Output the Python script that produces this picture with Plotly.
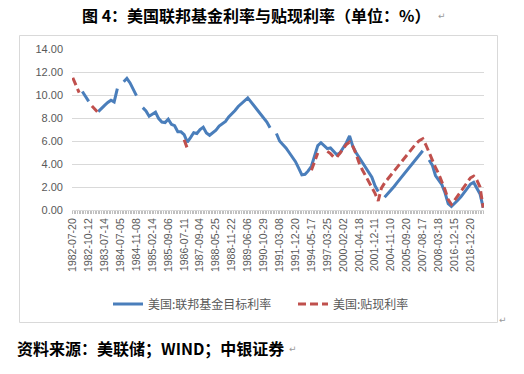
import plotly.graph_objects as go

# ---------------- data ----------------
tick_labels = ["1982-07-20", "1982-10-12", "1983-07-14", "1984-07-05", "1984-11-08",
               "1985-02-14", "1985-09-06", "1986-07-11", "1987-09-04", "1988-05-25",
               "1988-11-22", "1989-06-06", "1990-10-29", "1991-03-08", "1991-12-20",
               "1994-05-17", "1997-03-25", "2000-02-02", "2001-04-18", "2001-12-11",
               "2004-11-10", "2005-09-20", "2007-08-17", "2008-03-18", "2016-12-15",
               "2018-12-20"]
label_every = 5  # one label every 5 plotted categories

fed_funds_target = (
    [None, None, None,
     10.3, 9.9, 9.45,
     None, None,
     8.55, 8.85, 9.1, 9.35, 9.55, 9.4, 10.55,
     None,
     11.15, 11.45, 11.05, 10.5, 9.95,
     None,
     8.9, 8.62, 8.15, 8.3, 8.5, 7.95, 7.65, 7.6, 7.9, 7.45,
     7.33, 6.8, 6.8, 6.55, 5.9, 6.3, 6.72, 6.65, 7.0, 7.2,
     6.7, 6.5, 6.7, 6.95, 7.3, 7.5, 7.7, 8.1, 8.35, 8.65,
     9.0, 9.25, 9.55, 9.75, 9.4, 9.05, 8.7, 8.4, 8.0, 7.65,
     7.15,
     None,
     6.65, 6.0, 5.7, 5.4, 5.0, 4.6, 4.2, 3.65, 3.05, 3.1,
     3.4, 3.8, 4.7, 5.6, 5.85, 5.6, 5.33, 5.4, 5.05, 4.8,
     4.98, 5.4, 5.85, 6.45, 5.55, 5.0, 4.55, 4.15, 3.75, 3.3,
     2.85, 2.1, 1.6,
     None,
     1.1, 1.4, 1.7, 2.05, 2.4, 2.75, 3.15, 3.5, 3.85, 4.2,
     4.55, 4.85, 5.15,
     None,
     4.35, 3.9, 3.0, 2.6, 2.2, 1.5, 0.55, 0.3, 0.55, 0.85,
     1.15, 1.5, 1.85, 2.25, 2.4, 1.95, 1.4, 0.2]
)

discount_rate = (
    [11.5, 10.85, 10.2,
     None, None, None,
     9.05, 8.7, 8.45]
    + [None] * 26
    + [6.1, 5.35]
    + [None] * 38
    + [3.45, 4.3, 4.95,
       None, None,
       5.1, 4.9, 4.6, 4.6, 4.95, 5.3, 5.7, 5.9, 5.55, 4.9,
       4.1, 3.5, 3.0, 2.45, 1.95, 1.45, 0.8, 1.9, 2.35, 2.7,
       3.05, 3.4, 3.75, 4.15, 4.45, 4.8, 5.15, 5.5, 5.8, 6.05,
       6.2, 5.65, 4.95, 4.25, 3.7, 3.15, 2.5, 1.75, 0.9, 0.5,
       0.85, 1.25, 1.65, 2.05, 2.45, 2.8, 2.95, 2.6, 2.0, 0.2]
)

assert len(fed_funds_target) == len(discount_rate), (len(fed_funds_target), len(discount_rate))
n = len(fed_funds_target)
cat_index = list(range(n))
tick_pos = [k * label_every for k in range(len(tick_labels))]

# ---------------- figure ----------------
W, H = 524, 374
L, R, T, B = 72, 40, 49, 164
pw, ph = W - L - R, H - T - B


def px_x(p):
    return (p - L) / pw


def px_y(p):
    return (H - B - p) / ph


fig = go.Figure()
fig.add_trace(go.Scatter(
    x=cat_index, y=fed_funds_target, mode="lines", name="美国:联邦基金目标利率",
    line=dict(color="#4A7EBB", width=3), connectgaps=False))
fig.add_trace(go.Scatter(
    x=cat_index, y=discount_rate, mode="lines", name="美国:贴现利率",
    line=dict(color="#C0504D", width=3, dash="8px,4px"), connectgaps=False))

axis_font = dict(family="Liberation Sans, Arial, sans-serif", color="#595959")

fig.update_layout(
    width=W, height=H, autosize=False,
    margin=dict(l=L, r=R, t=T, b=B),
    paper_bgcolor="white", plot_bgcolor="white",
    showlegend=True,
    legend=dict(orientation="h", x=px_x(108), y=px_y(304), xanchor="left", yanchor="middle",
                font=dict(family="Noto Sans CJK SC", size=12, color="#595959"),
                bgcolor="rgba(0,0,0,0)", entrywidth=140),
    xaxis=dict(range=[-0.25, n - 1 + 0.25], tickmode="array", tickvals=tick_pos,
               ticktext=tick_labels, tickangle=-90,
               tickfont=dict(size=10.5, **axis_font),
               ticks="outside", ticklen=3, tickcolor="#BFBFBF",
               showline=True, linecolor="#D9D9D9", linewidth=1,
               showgrid=False, zeroline=False,
               minor=dict(dtick=0.5, tick0=0, ticks="outside", ticklen=3,
                          tickcolor="#BFBFBF", showgrid=False)),
    yaxis=dict(range=[0, 14], dtick=2, tickformat=".2f",
               tickfont=dict(size=11, **axis_font),
               showgrid=True, gridcolor="#D9D9D9", gridwidth=1,
               zeroline=False, showline=False, ticks="", ticklabelstandoff=8),
)

# chart border box
fig.add_shape(type="rect", xref="paper", yref="paper",
              x0=px_x(19.5), x1=px_x(497.5), y0=px_y(322.5), y1=px_y(35.5),
              line=dict(color="#D9D9D9", width=1), fillcolor="rgba(0,0,0,0)", layer="below")

# title and source
fig.add_annotation(text="<b>图 4：美国联邦基金利率与贴现利率（单位：%）</b>",
                   xref="paper", yref="paper", x=px_x(256), y=px_y(15),
                   xanchor="center", yanchor="middle", showarrow=False,
                   font=dict(family="Noto Sans CJK SC", size=16, color="#000000"))
fig.add_annotation(text="↵", xref="paper", yref="paper", x=px_x(436), y=px_y(16),
                   xanchor="left", yanchor="middle", showarrow=False,
                   font=dict(family="DejaVu Sans", size=9, color="#9A9A9A"))
fig.add_annotation(text="<b>资料来源：美联储；WIND；中银证券</b>",
                   xref="paper", yref="paper", x=px_x(15), y=px_y(348),
                   xanchor="left", yanchor="middle", showarrow=False,
                   font=dict(family="Noto Sans CJK SC", size=16, color="#000000"))
fig.add_annotation(text="↵", xref="paper", yref="paper", x=px_x(287), y=px_y(349),
                   xanchor="left", yanchor="middle", showarrow=False,
                   font=dict(family="DejaVu Sans", size=9, color="#9A9A9A"))
fig.add_annotation(text="↵", xref="paper", yref="paper", x=px_x(497), y=px_y(320),
                   xanchor="left", yanchor="middle", showarrow=False,
                   font=dict(family="DejaVu Sans", size=9, color="#9A9A9A"))

fig.write_html("out.html", config={"displayModeBar": False},
               post_script="document.body.style.margin='0';document.body.style.overflow='hidden';")
